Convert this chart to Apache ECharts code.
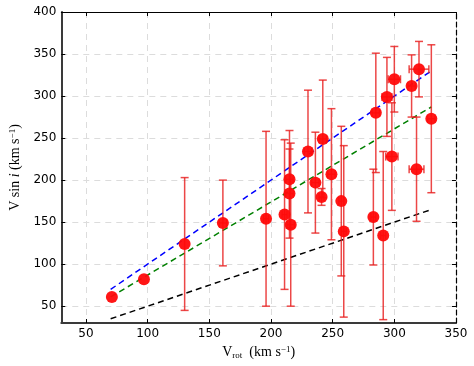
<!DOCTYPE html>
<html>
<head>
<meta charset="utf-8">
<script src="https://cdn.jsdelivr.net/npm/echarts@6/dist/echarts.min.js"></script>
<style>
html,body{margin:0;padding:0;background:#fff;}
#chart{width:474px;height:366px;}
</style>
</head>
<body>
<div id="chart"></div>
<script>
// ---- data ----
const vrot      = [71, 97, 130, 161, 196, 211, 215, 215, 216, 230, 236, 242, 241, 249, 257, 259, 285, 283, 291, 294, 298, 300, 314, 320, 318, 330];
const vsini     = [61, 82, 124, 149, 154, 159, 184, 201, 147, 234, 197, 249, 180, 207, 175, 139, 280, 156, 134, 299, 228, 320, 312, 332, 213, 273];
const vsiniErr  = [0, 0, 79, 51, 104, 89, 53, 58, 97, 73, 60, 70, 10, 78, 89, 102, 71, 57, 100, 47, 64, 39, 37, 33, 62, 88];
const vrotErr   = [0, 0, 0, 3, 2, 2, 3, 3, 3, 3, 3, 3, 2, 3, 2, 2, 3, 2, 2, 4, 5, 5, 3, 8, 6, 3];

const blueLine  = [[70, 70], [330, 330]];
const greenLine = [[70, 61], [330, 287]];
const blackLine = [[70, 35], [330, 165]];

const xTicks = [50, 100, 150, 200, 250, 300, 350];
const yTicks = [50, 100, 150, 200, 250, 300, 350, 400];

// ---- build ----
const pts = vrot.map((v, i) => [v, vsini[i]]);
const errData = vrot.map((v, i) => [v, vsini[i], vsiniErr[i], vrotErr[i]]);

const chart = echarts.init(document.getElementById('chart'), null, {renderer: 'canvas'});

const tickFont = {fontFamily: 'DejaVu Sans', fontSize: 12, color: '#000'};
const serif = 'Liberation Serif';

const errStyle = {stroke: 'rgba(232,30,30,0.82)', lineWidth: 1.5};

function renderErr(params, api) {
  const x = api.value(0), y = api.value(1), ey = api.value(2), ex = api.value(3);
  const ch = [];
  const cap = 4;
  if (ey > 0) {
    const t = api.coord([x, y + ey]), b = api.coord([x, y - ey]);
    ch.push({type: 'line', shape: {x1: t[0], y1: t[1], x2: b[0], y2: b[1]}, style: errStyle});
    ch.push({type: 'line', shape: {x1: t[0] - cap, y1: t[1], x2: t[0] + cap, y2: t[1]}, style: errStyle});
    ch.push({type: 'line', shape: {x1: b[0] - cap, y1: b[1], x2: b[0] + cap, y2: b[1]}, style: errStyle});
  }
  if (ex > 0) {
    const l = api.coord([x - ex, y]), r = api.coord([x + ex, y]);
    ch.push({type: 'line', shape: {x1: l[0], y1: l[1], x2: r[0], y2: r[1]}, style: errStyle});
    ch.push({type: 'line', shape: {x1: l[0], y1: l[1] - cap, x2: l[0], y2: l[1] + cap}, style: errStyle});
    ch.push({type: 'line', shape: {x1: r[0], y1: r[1] - cap, x2: r[0], y2: r[1] + cap}, style: errStyle});
  }
  return {type: 'group', children: ch};
}

const gridLine = {show: true, lineStyle: {color: '#dcdcdc', type: [6, 5], width: 1}};

const option = {
  animation: false,
  backgroundColor: '#fff',
  grid: {left: 52, right: 18, top: 12, bottom: 43, containLabel: false},
  xAxis: [{
    type: 'value', min: 30, max: 350, position: 'bottom',
    axisLine: {show: true, lineStyle: {color: '#3a3a3a', width: 2}},
    axisTick: {show: true, inside: true, length: 4, customValues: xTicks, lineStyle: {color: '#000'}},
    axisLabel: Object.assign({customValues: xTicks, margin: 5}, tickFont),
    splitLine: gridLine,
    name: '{v|V}{sub|rot}{t|  (km s}{sup|−1}{t|)}',
    nameLocation: 'middle', nameGap: 19,
    nameTextStyle: {
      rich: {
        v: {fontFamily: serif, fontSize: 14, color: '#000'},
        sub: {fontFamily: serif, fontSize: 9, color: '#000', verticalAlign: 'bottom', padding: [6, 0, 0, 0]},
        t: {fontFamily: serif, fontSize: 14, color: '#000'},
        sup: {fontFamily: serif, fontSize: 9, color: '#000', verticalAlign: 'top', padding: [0, 0, 6, 0]}
      }
    }
  }, {
    type: 'value', min: 30, max: 350, position: 'top',
    axisLine: {show: true, lineStyle: {color: '#000', width: 1}},
    axisTick: {show: true, inside: true, length: 4, customValues: xTicks, lineStyle: {color: '#000'}},
    axisLabel: {show: false},
    splitLine: {show: false}
  }],
  yAxis: [{
    type: 'value', min: 30, max: 400, position: 'left',
    axisLine: {show: true, lineStyle: {color: '#3a3a3a', width: 2}},
    axisTick: {show: true, inside: true, length: 4, customValues: yTicks, lineStyle: {color: '#000'}},
    axisLabel: Object.assign({customValues: yTicks, margin: 5}, tickFont),
    splitLine: gridLine,
    name: '{t|V sin }{i|i}{t| (km s}{sup|−1}{t|)}',
    nameLocation: 'middle', nameGap: 30,
    nameTextStyle: {
      rich: {
        t: {fontFamily: serif, fontSize: 14, color: '#000'},
        i: {fontFamily: serif, fontSize: 14, fontStyle: 'italic', color: '#000'},
        sup: {fontFamily: serif, fontSize: 9, color: '#000', verticalAlign: 'top', padding: [0, 0, 6, 0]}
      }
    }
  }, {
    type: 'value', min: 30, max: 400, position: 'right',
    axisLine: {show: true, lineStyle: {color: '#000', width: 1.2, type: [5, 3]}},
    axisTick: {show: true, inside: true, length: 4, customValues: yTicks, lineStyle: {color: '#000'}},
    axisLabel: {show: false},
    splitLine: {show: false}
  }],
  series: [
    {type: 'line', data: blueLine, symbol: 'none', z: 2, silent: true,
      lineStyle: {color: '#0000ff', width: 1.5, type: [6, 4]}},
    {type: 'line', data: greenLine, symbol: 'none', z: 2, silent: true,
      lineStyle: {color: '#008000', width: 1.5, type: [6, 4]}},
    {type: 'line', data: blackLine, symbol: 'none', z: 2, silent: true,
      lineStyle: {color: '#000000', width: 1.5, type: [6, 4]}},
    {type: 'custom', data: errData, renderItem: renderErr, z: 3, silent: true,
      encode: {x: 0, y: 1}},
    {type: 'scatter', data: pts, symbol: 'circle', symbolSize: 12, z: 4,
      itemStyle: {color: '#ff0a0a', opacity: 0.95}}
  ]
};
chart.setOption(option);
</script>
</body>
</html>
